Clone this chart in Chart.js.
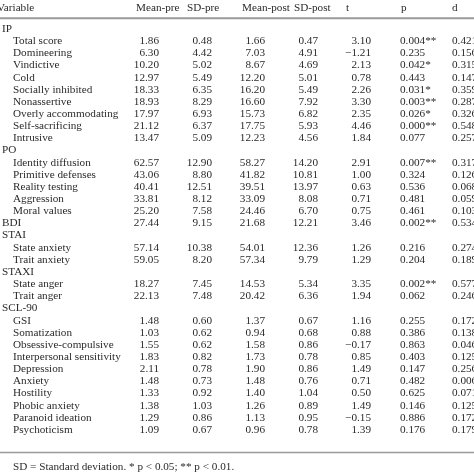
<!DOCTYPE html>
<html lang="en">
  <head>
    <meta charset="UTF-8" />
    <title>Pre/post comparison table</title>
    <script src="https://cdn.jsdelivr.net/npm/chart.js"></script>
    <style>
      html, body { margin: 0; padding: 0; background: #fff; overflow: hidden; }
      #wrap { position: relative; width: 474px; height: 474px; }
    </style>
  </head>
  <body>
    <div id="wrap"><canvas id="tbl"></canvas></div>
    <script>
      // Table content
      const headers = ["Variable", "Mean-pre", "SD-pre", "Mean-post", "SD-post", "t", "p", "d"]
      const variables = [
        "IP", "Total score", "Domineering", "Vindictive", "Cold", "Socially inhibited", "Nonassertive",
        "Overly accommodating", "Self-sacrificing", "Intrusive",
        "PO", "Identity diffusion", "Primitive defenses", "Reality testing", "Aggression", "Moral values",
        "BDI",
        "STAI", "State anxiety", "Trait anxiety",
        "STAXI", "State anger", "Trait anger",
        "SCL-90", "GSI", "Somatization", "Obsessive-compulsive", "Interpersonal sensitivity", "Depression",
        "Anxiety", "Hostility", "Phobic anxiety", "Paranoid ideation", "Psychoticism",
      ]
      const groupRows = ["IP", "PO", "BDI", "STAI", "STAXI", "SCL-90"]
      const meanPre = [null, 1.86, 6.30, 10.20, 12.97, 18.33, 18.93, 17.97, 21.12, 13.47,
        null, 62.57, 43.06, 40.41, 33.81, 25.20, 27.44, null, 57.14, 59.05, null, 18.27, 22.13,
        null, 1.48, 1.03, 1.55, 1.83, 2.11, 1.48, 1.33, 1.38, 1.29, 1.09]
      const sdPre = [null, 0.48, 4.42, 5.02, 5.49, 6.35, 8.29, 6.93, 6.37, 5.09,
        null, 12.90, 8.80, 12.51, 8.12, 7.58, 9.15, null, 10.38, 8.20, null, 7.45, 7.48,
        null, 0.60, 0.62, 0.62, 0.82, 0.78, 0.73, 0.92, 1.03, 0.86, 0.67]
      const meanPost = [null, 1.66, 7.03, 8.67, 12.20, 16.20, 16.60, 15.73, 17.75, 12.23,
        null, 58.27, 41.82, 39.51, 33.09, 24.46, 21.68, null, 54.01, 57.34, null, 14.53, 20.42,
        null, 1.37, 0.94, 1.58, 1.73, 1.90, 1.48, 1.40, 1.26, 1.13, 0.96]
      const sdPost = [null, 0.47, 4.91, 4.69, 5.01, 5.49, 7.92, 6.82, 5.93, 4.56,
        null, 14.20, 10.81, 13.97, 8.08, 6.70, 12.21, null, 12.36, 9.79, null, 5.34, 6.36,
        null, 0.67, 0.68, 0.86, 0.78, 0.86, 0.76, 1.04, 0.89, 0.95, 0.78]
      const tValues = [null, 3.10, -1.21, 2.13, 0.78, 2.26, 3.30, 2.35, 4.46, 1.84,
        null, 2.91, 1.00, 0.63, 0.71, 0.75, 3.46, null, 1.26, 1.29, null, 3.35, 1.94,
        null, 1.16, 0.88, -0.17, 0.85, 1.49, 0.71, 0.50, 1.49, -0.15, 1.39]
      const pValues = [null, "0.004**", "0.235", "0.042*", "0.443", "0.031*", "0.003**", "0.026*", "0.000**", "0.077",
        null, "0.007**", "0.324", "0.536", "0.481", "0.461", "0.002**", null, "0.216", "0.204", null, "0.002**", "0.062",
        null, "0.255", "0.386", "0.863", "0.403", "0.147", "0.482", "0.625", "0.146", "0.886", "0.176"]
      const dValues = [null, 0.421, 0.156, 0.315, 0.147, 0.359, 0.287, 0.326, 0.548, 0.257,
        null, 0.317, 0.126, 0.068, 0.059, 0.103, 0.534, null, 0.274, 0.189, null, 0.577, 0.246,
        null, 0.172, 0.138, 0.046, 0.125, 0.256, 0.006, 0.071, 0.125, 0.172, 0.179]
      const footnote = "SD = Standard deviation. * p < 0.05; ** p < 0.01."

      // column layout (x in px units of the x scale), align
      const cols = [
        { x: 13, align: "left" }, { x: 159, align: "right" }, { x: 212, align: "right" },
        { x: 265, align: "right" }, { x: 318, align: "right" }, { x: 371, align: "right" },
        { x: 400, align: "left" }, { x: 452, align: "left" },
      ]
      const headerX = [-3, 136, 187, 242, 294, 346, 401, 452]
      const HEADER_ROW = -1.73, FOOT_ROW = 36.05, TOP_RULE = -0.88, BOTTOM_RULE = 34.85

      const fmt = (v) => (v < 0 ? "\u2212" + Math.abs(v).toFixed(2) : v.toFixed(2))
      const series = [
        null,
        meanPre.map((v) => (v == null ? null : v.toFixed(2))),
        sdPre.map((v) => (v == null ? null : v.toFixed(2))),
        meanPost.map((v) => (v == null ? null : v.toFixed(2))),
        sdPost.map((v) => (v == null ? null : v.toFixed(2))),
        tValues.map((v) => (v == null ? null : fmt(v))),
        pValues,
        dValues.map((v) => (v == null ? null : v.toFixed(3))),
      ]

      // one point per cell, text drawn at the point's position
      const cells = []
      variables.forEach((name, r) => {
        const isGroup = groupRows.includes(name)
        cells.push({ x: isGroup ? 2 : cols[0].x, y: r, text: name, align: "left" })
        for (let c = 1; c < cols.length; c++) {
          if (series[c][r] != null) cells.push({ x: cols[c].x, y: r, text: series[c][r], align: cols[c].align })
        }
      })
      headers.forEach((h, c) => cells.push({ x: headerX[c], y: HEADER_ROW, text: h, align: "left" }))
      cells.push({ x: 13, y: FOOT_ROW, text: footnote, align: "left" })

      const textPlugin = {
        id: "cellText",
        afterDatasetsDraw(chart) {
          const { ctx, scales } = chart
          const xs = scales.x, ys = scales.y
          ctx.save()
          // rules
          ctx.strokeStyle = "#9a9a9a"
          ctx.lineWidth = 2
          ctx.beginPath()
          ctx.moveTo(0, ys.getPixelForValue(TOP_RULE))
          ctx.lineTo(474, ys.getPixelForValue(TOP_RULE))
          ctx.stroke()
          ctx.lineWidth = 1.5
          ctx.beginPath()
          ctx.moveTo(0, ys.getPixelForValue(BOTTOM_RULE))
          ctx.lineTo(474, ys.getPixelForValue(BOTTOM_RULE))
          ctx.stroke()
          ctx.fillStyle = "#2a2a2a"
          ctx.font = '11.2px "Liberation Serif", "DejaVu Serif", serif'
          ctx.textBaseline = "middle"
          chart.data.datasets[0].data.forEach((d) => {
            ctx.textAlign = d.align
            ctx.fillText(d.text, xs.getPixelForValue(d.x), ys.getPixelForValue(d.y))
          })
          ctx.restore()
        },
      }

      new Chart(document.getElementById("tbl"), {
        type: "scatter",
        data: { datasets: [{ data: cells, pointRadius: 0, pointHoverRadius: 0 }] },
        options: {
          responsive: true,
          maintainAspectRatio: false,
          animation: false,
          events: [],
          layout: { padding: 0 },
          plugins: { legend: { display: false }, tooltip: { enabled: false } },
          scales: {
            x: { type: "linear", min: 0, max: 474, display: false },
            y: { type: "linear", min: -2.387, max: 36.63, reverse: true, display: false },
          },
        },
        plugins: [textPlugin],
      })
    </script>
  </body>
</html>
